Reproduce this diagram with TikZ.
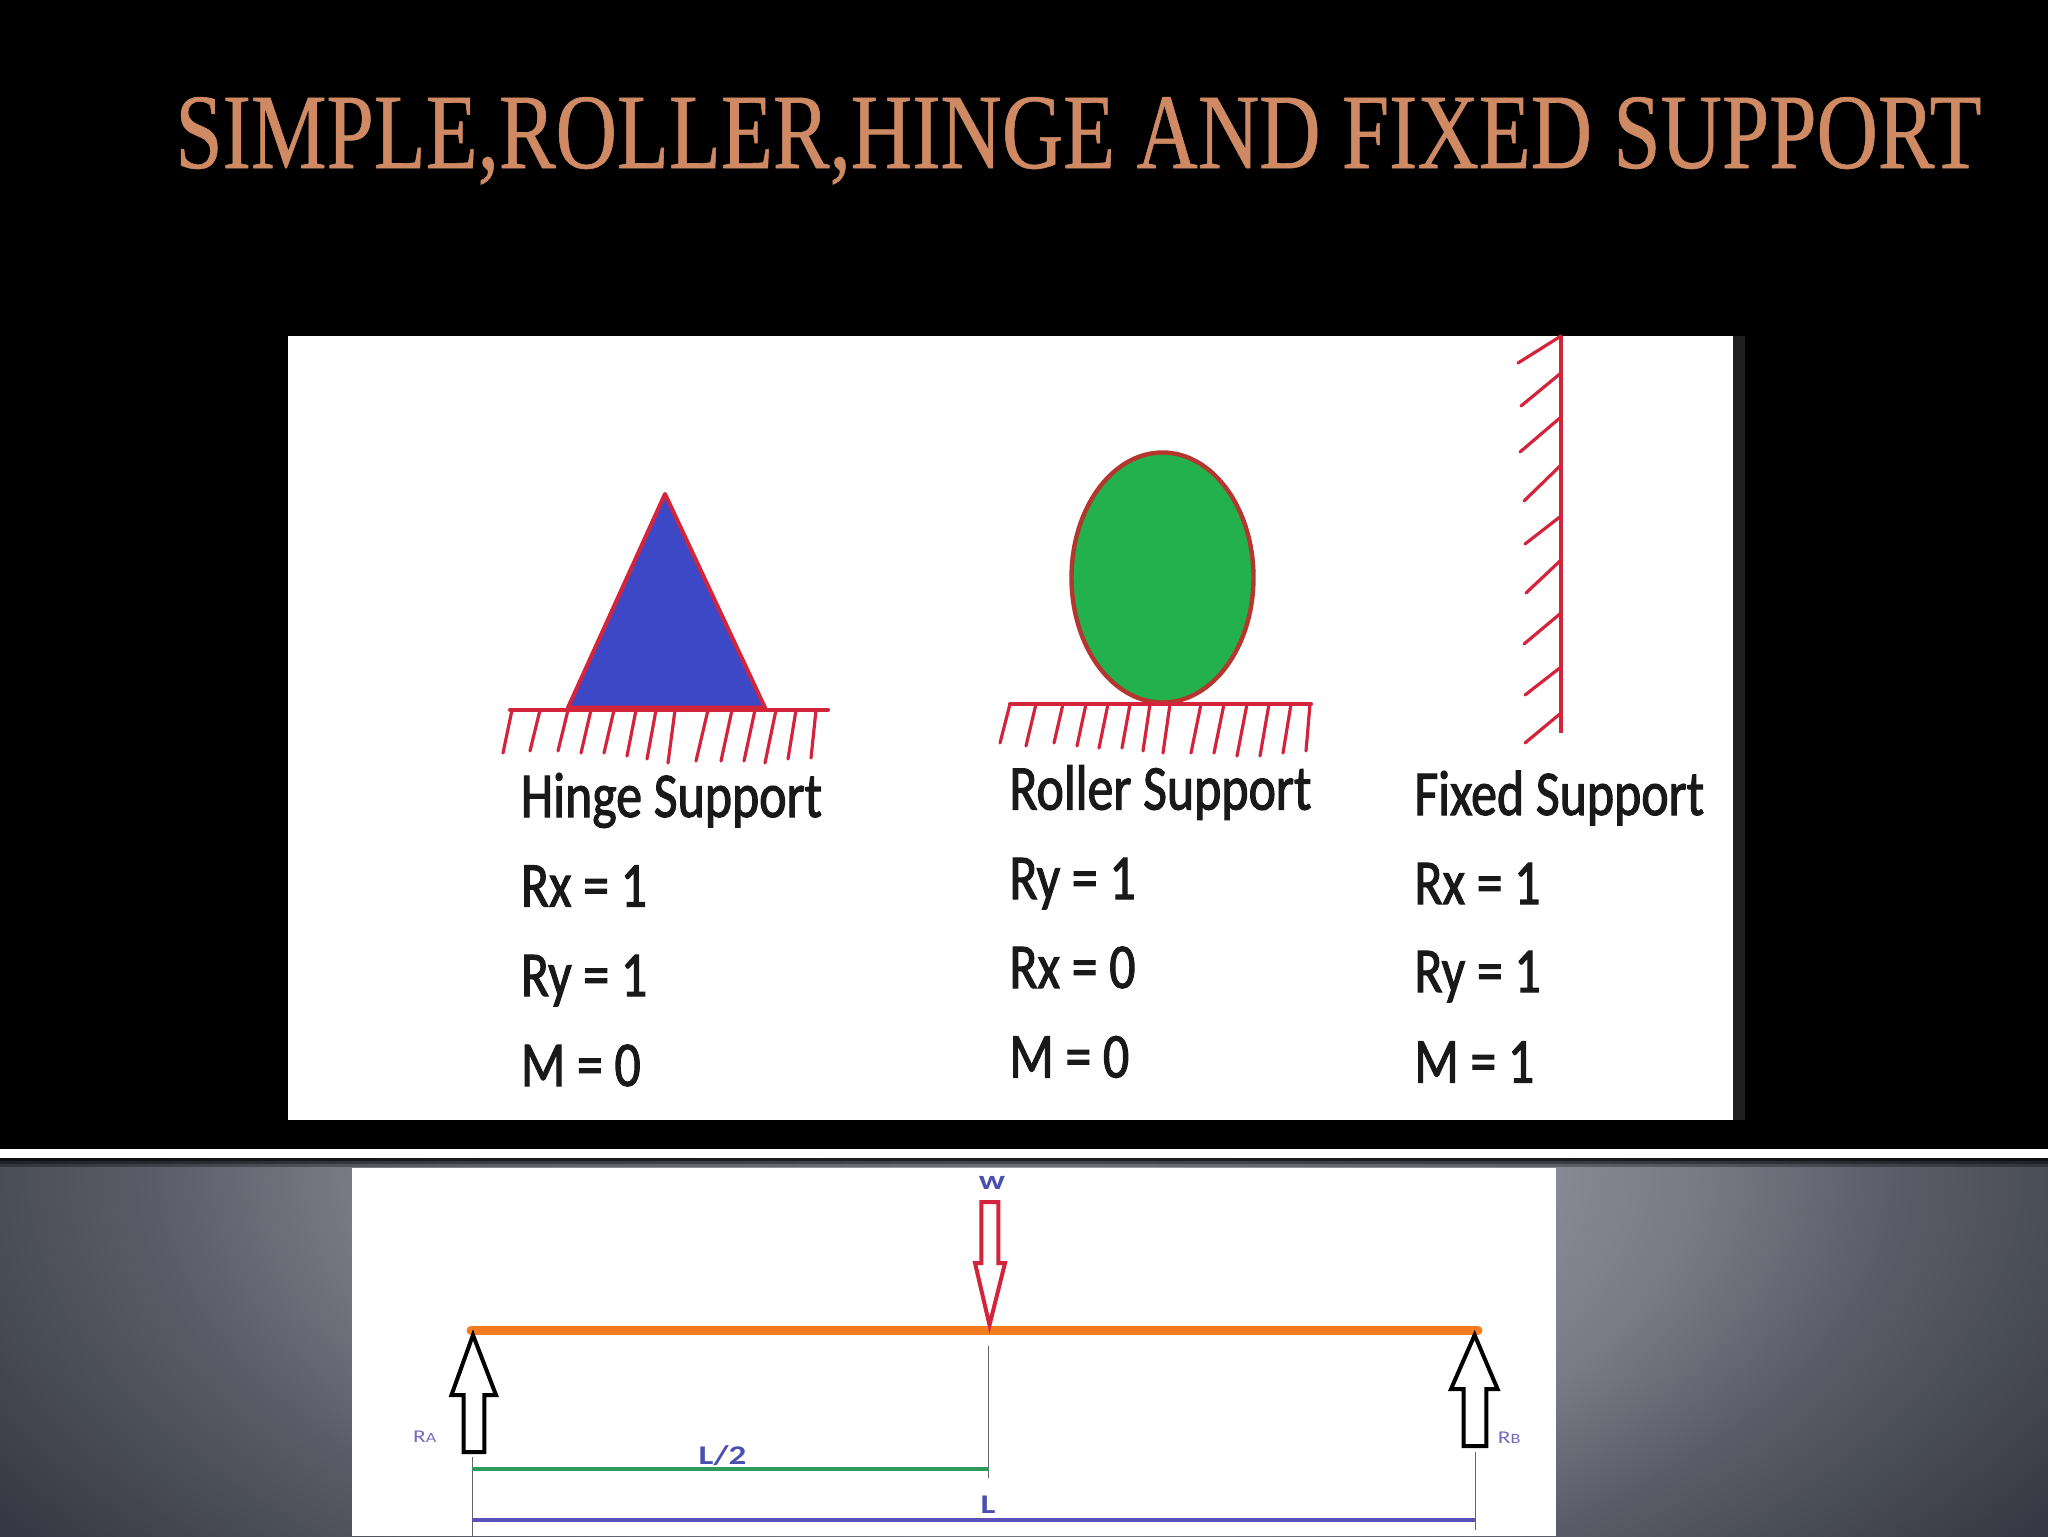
\documentclass[tikz,border=0pt]{standalone}
\usepackage{xcolor}
\usepackage{fontspec}
\setmainfont[FakeStretch=0.81,FakeBold=1.6]{Carlito}
\newfontfamily\titlefont[FakeStretch=0.793,FakeBold=0.5]{Liberation Serif}
\newfontfamily\dimfont[FakeStretch=1.3]{Carlito}
\definecolor{heading}{HTML}{CF8A64}
\definecolor{truss}{HTML}{D4243C}
\definecolor{hinge_fill}{HTML}{3C48C6}
\definecolor{roller_fill}{HTML}{22B14C}
\definecolor{roller_edge}{HTML}{B5362F}
\definecolor{beam}{HTML}{F47B20}
\definecolor{dim_text}{HTML}{4A4FB0}
\definecolor{dim_green}{HTML}{2E9A5E}
\definecolor{dim_blue}{HTML}{5A50B8}
\definecolor{glow_0}{HTML}{9C9EAA}
\definecolor{glow_1}{HTML}{868894}
\definecolor{glow_2}{HTML}{787A86}
\definecolor{glow_3}{HTML}{5B5C69}
\definecolor{glow_4}{HTML}{4A4E58}
\definecolor{glow_5}{HTML}{363744}
\pgfdeclareradialshading{panelglow}{\pgfpoint{0bp}{0bp}}{color(0bp)=(glow_0); color(10.25bp)=(glow_1); color(12.9bp)=(glow_2); color(16.75bp)=(glow_3); color(19.7bp)=(glow_4); color(23.7bp)=(glow_5); color(50bp)=(glow_5)}

\begin{document}
\begin{tikzpicture}[x={(.5pt,0)}, y={(0,-.5pt)},
        caption/.style = {anchor = base west, inner sep = 0, text = black!90, font = \fontsize{32}{32}\selectfont},
        dimtext/.style = {anchor = base, inner sep = 0, text = dim_text, font = \dimfont\bfseries\fontsize{13.5}{14}\selectfont},
        reaction/.style = {anchor = base west, inner sep = 0, text = dim_blue!85, font = \dimfont\fontsize{9}{9}\selectfont},
        truss/.style = {draw = truss, line width = 2pt, line cap = round},
        hatch/.style = {draw = truss, line width = 1.6pt, line cap = round},
        tick/.style = {draw = black!60, line width = .7pt},
        outline/.style = {line width = 2pt, line join = miter, fill = white}]
            \useasboundingbox (0,0) rectangle (2048,1536);
            \fill[black] (0,0) rectangle (2048,1536);
            \begin{scope}
                \clip (0,1158) rectangle (2048,1536);
                \shade[shading = panelglow] (1024,1168) ellipse [x radius = 1300, y radius = 673];
                \foreach \t/\o in {0/.8, 3/.55, 6/.3}
                {\fill[black, opacity = \o] (0,1158+\t) rectangle (2048,1161+\t);}
            \end{scope}
            \fill[white] (0,1149) rectangle (2048,1158);
            \fill[black!88] (1733,336) rectangle (1745,1120);
            \fill[white] (288,336) rectangle (1733,1120);
            \fill[white] (352,1168) rectangle (1556,1536);

            \node[anchor = base west, inner sep = 0, text = heading, font = \titlefont\fontsize{53.6}{54}\selectfont] (title) at (175,168) {SIMPLE,ROLLER,HINGE AND FIXED SUPPORT};

            \filldraw[truss, fill = hinge_fill, line join = round] (665,494) -- (568,707.6) -- (765,707.6) -- cycle;
            \draw[truss] (510,709.6) -- (828,709.6);
            \foreach \bx/\by/\tx in {503/753/512, 530/751/540, 558/751/568, 581/753/591, 604/753/614, 627/756/636, 647/759/656, 668/763/675, 696/761/708, 721/761/732, 744/761/755, 765/763/776, 788/759/796, 811/758/816}
            {\draw[hatch] (\bx,\by) -- (\tx,710);}

            \filldraw[draw = roller_edge, fill = roller_fill, line width = 2.2pt] (1162.5,577.5) ellipse [x radius = 91, y radius = 125];
            \draw[truss] (1010,704) -- (1311,704);
            \foreach \bx/\by/\tx in {1000/743/1010, 1026/746/1036, 1054/743/1063, 1077/746/1086, 1099/748/1108, 1122/748/1130, 1143/751/1150, 1163/753/1170, 1191/753/1201, 1214/753/1224, 1237/756/1247, 1260/756/1269, 1283/753/1291, 1306/751/1310}
            {\draw[hatch] (\bx,\by) -- (\tx,704);}

            \draw[truss, line cap = butt] (1561,336) -- (1561,733);
            \foreach \ex/\ey/\wy in {1518/363/336, 1521/406/373, 1520/452/417, 1524/501/465, 1525/544/516, 1526/593/560, 1524/644/613, 1525/695/667, 1525/743/713}
            {\draw[hatch] (\ex,\ey) -- (1561,\wy);}

            \foreach \l/\x/\b[count=\y] in {{Hinge Support}/520.5/817, {Rx = 1}/520.5/906.5, {Ry = 1}/520.5/996, {M = 0}/520.5/1086,
                {Roller Support}/1009/809.6, {Ry = 1}/1009/899, {Rx = 0}/1009/988, {M = 0}/1009/1077.5,
                {Fixed Support}/1414/815, {Rx = 1}/1414/904, {Ry = 1}/1414/992, {M = 1}/1414/1082.5}
            {\node[caption] (cap\y) at (\x,\b) {\l};}

            \coordinate (midtop) at (988.6,1346);
            \coordinate (midlow) at (988.6,1478);
            \coordinate (lefttop) at (472.3,1457);
            \coordinate (leftlow) at (472.3,1536);
            \coordinate (righttop) at (1475.6,1452);
            \coordinate (rightlow) at (1475.6,1530);
            \draw[tick] (midtop) -- (midlow);
            \draw[tick] (lefttop) -- (leftlow);
            \draw[tick] (righttop) -- (rightlow);
            \draw[dim_green, line width = 1.6pt] (lefttop |- 0,1469) -- (midtop |- 0,1469);
            \draw[dim_blue, line width = 1.8pt] (lefttop |- 0,1520) -- (righttop |- 0,1520);

            \draw[beam, line width = 4.5pt, line cap = round] (471,1330.5) -- (1478,1330.5);

            \draw[outline, draw = truss] (981.3,1202) -- (998.3,1202) -- (998.3,1263) -- (1005,1263) -- (989.5,1325) -- (975,1263) -- (981.3,1263) -- cycle;
            \draw[outline, draw = black] (473,1335) -- (496,1395) -- (484.4,1395) -- (484.4,1452) -- (463.6,1452) -- (463.6,1395) -- (451.5,1395) -- cycle;
            \draw[outline, draw = black] (1474.6,1335) -- (1497.5,1389) -- (1486.3,1389) -- (1486.3,1446) -- (1463.5,1446) -- (1463.5,1389) -- (1451,1389) -- cycle;

            \node[dimtext] (load) at (992,1189) {w};
            \node[dimtext] (half) at (722.5,1464) {L/2};
            \node[dimtext] (span) at (988,1513) {L};
            \node[reaction] (ra) at (412.7,1442) {R{\fontsize{7}{7}\selectfont A}};
            \node[reaction] (rb) at (1497.4,1443) {R{\fontsize{7}{7}\selectfont B}};
        \end{tikzpicture}
\end{document}
